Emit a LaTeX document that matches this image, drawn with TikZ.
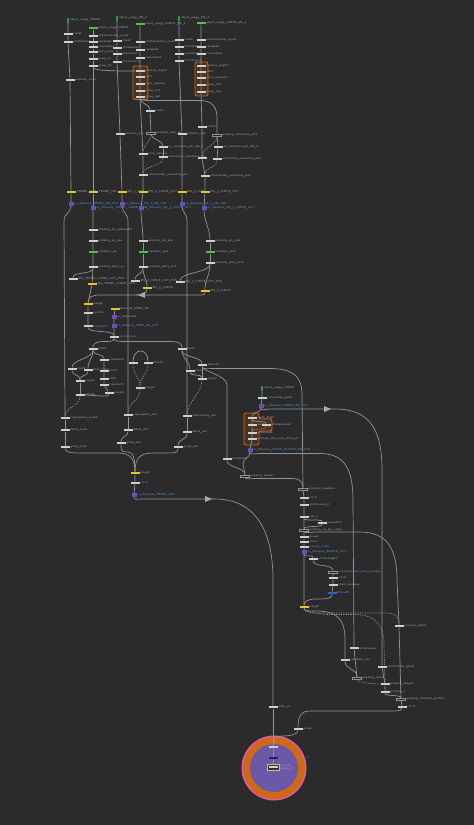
\documentclass[tikz,border=0pt]{standalone}
\usetikzlibrary{shapes.geometric,calc}
\definecolor{bgc}{HTML}{2B2B2B}
\definecolor{wirec}{HTML}{939393}
\definecolor{ndc}{HTML}{CFCFCF}
\definecolor{ylc}{HTML}{E9C52B}
\definecolor{grc}{HTML}{45C845}
\definecolor{pcc}{HTML}{6B4FB8}
\definecolor{blc}{HTML}{5B9BD5}
\definecolor{lbc}{HTML}{A8A8A8}
\definecolor{orc}{HTML}{C8681E}
\definecolor{ofc}{HTML}{4A3320}
\definecolor{pinkc}{HTML}{E157B7}
\definecolor{oringc}{HTML}{D06A12}
\definecolor{ipc}{HTML}{6B58A6}
\definecolor{mxc}{HTML}{3A5FD0}
\pgfdeclarelayer{back}
\pgfdeclarelayer{wires}
\pgfsetlayers{back,wires,main}
\tikzset{
 wire/.style={draw=wirec, line width=0.7pt},
 dwire/.style={wire, dash pattern=on 1.2pt off 1.2pt},
 nd/.style={rectangle, fill=ndc, minimum width=9pt, minimum height=2.6pt, inner sep=0pt},
 yl/.style={nd, fill=ylc},
 gr/.style={nd, fill=grc},
 bk/.style={nd, fill=black!85, draw=wirec, line width=0.3pt},
 mx/.style={nd, fill=mxc},
 pm/.style={nd, fill=pcc, minimum width=5pt, minimum height=4pt},
 gi/.style={rectangle, fill=grc!75!black, minimum width=2.5pt, minimum height=5pt, inner sep=0pt},
 lb/.style={text=lbc, font=\sffamily\fontsize{2.9}{3.2}\selectfont, inner sep=0.8pt},
 lbb/.style={lb, text=blc},
 inb/.style={nd, label distance=3.5pt},
 grpbox/.style={draw=orc, fill=ofc, line width=0.8pt, rounded corners=2pt},
 arr/.style={isosceles triangle, isosceles triangle stretches, minimum width=6pt, minimum height=7pt, inner sep=0pt, fill=wirec!80!white},
}
\newcommand\MkW[5]{\node[#1,label={[lb]0:\detokenize{#5}}] (#2) at (#3,#4) {};}
\newcommand\MkB[5]{\node[#1,label={[lbb]0:\detokenize{#5}}] (#2) at (#3,#4) {};}
\begin{document}
\begin{tikzpicture}[x=1pt,y=-1pt]
\begin{pgfonlayer}{back}
\fill[bgc] (0,0) rectangle (474,825);
\draw[grpbox] (133,66) rectangle (148,99.5);
\draw[grpbox] (195,62) rectangle (208,96);
\draw[grpbox] (244,413) -- (259,413) -- (259,419) -- (272,419) -- (272,431) -- (259,431) -- (259,445) -- (244,445) -- cycle;
\fill[pinkc] (274,768) circle (32.5pt);
\fill[oringc] (274,768) circle (31pt);
\fill[ipc] (274,768) circle (24pt);
\end{pgfonlayer}
\useasboundingbox (0,0) rectangle (474,825);
% ---------- column A
\node[gi,label={[lb]0:\detokenize{object_merge_TRUNK}}] (gA) at (68,20) {};
\MkW{nd}{A1}{68}{34}{trans1}
\MkW{nd}{A2}{68}{42}{attribdelete1}
\MkW{nd}{A3}{70}{80}{primitive_curve}
\MkW{yl}{Y1}{71}{192}{TRUNK_OUT}
\MkB{pm}{P1}{71}{204}{ex_Elements_TRUNK_SIS_OUT}
% ---------- column B
\MkW{gr}{gB}{93}{28}{object_merge_CURVE}
\MkW{nd}{B1}{93}{36}{attribnormalize_curve1}
\MkW{nd}{B2}{93}{42}{resample1}
\MkW{nd}{B3}{93}{47}{convertline1}
\MkW{nd}{B4}{93}{52}{sort_points}
\MkW{nd}{B5}{93}{59}{group_crv}
\MkW{nd}{B6}{93}{66}{group_tip}
\MkW{yl}{Y2}{93}{192}{TRUNK_CRV}
\MkB{pm}{P2}{93}{208}{ex_Elements_TRUNK_CURVE_OUT}
% ---------- column C
\node[gi,label={[lb]0:\detokenize{object_merge_SIS_2}}] (gC) at (117,18) {};
\MkW{nd}{C1}{117}{41}{trans2}
\MkW{nd}{C2}{117}{48}{attribdelete2}
\MkW{nd}{C3}{117}{54}{polyframe1}
\MkB{nd}{C4}{117}{62}{attribnormal1}
\MkW{nd}{C5}{120}{134}{primitive_sis2}
\MkW{yl}{Y3}{122}{192}{SIS_2_OUT}
\MkB{pm}{P3}{122}{204}{ex_Elements_SIS_2_SIS_OUT}
% ---------- column D
\MkW{gr}{gD}{140}{24}{object_merge_CURVE_SIS_2}
\MkW{nd}{D1}{140}{42}{attribnormalize_curve2}
\MkW{nd}{D2}{140}{50}{resample2}
\MkW{nd}{D3}{140}{58}{convertline2}
\MkW{inb}{D4}{140}{71}{measure_length1}
\MkW{inb}{D5}{140}{77}{sort1}
\MkW{inb}{D6}{140}{84}{carve_tipcurve}
\MkW{inb}{D7}{140}{91}{group_crv2}
\MkW{inb}{D8}{140}{97}{group_tip2}
\MkW{nd}{D9}{150}{111}{blast3}
\MkW{bk}{K1}{151}{133}{polystrip_conn_pin}
\MkW{nd}{K2}{163}{147}{ex_connection_pin_SIS_2}
\MkW{nd}{K3}{163}{157}{attribcreate_connection_pin}
\MkW{nd}{D10}{143}{154}{blast_tipcurve}
\MkW{nd}{D11}{143}{175}{attribtransfer_connection_pin}
\MkW{yl}{Y4}{143}{192}{SIS_2_CURVE_OUT}
\MkB{pm}{P4}{141}{208}{ex_Elements_SIS_2_CURVE_OUT}
% ---------- column E
\node[gi,label={[lb]0:\detokenize{object_merge_SIS_3}}] (gE) at (179,18) {};
\MkW{nd}{E1}{179}{40}{trans3}
\MkW{nd}{E2}{179}{47}{attribdelete3}
\MkW{nd}{E3}{179}{54}{polyframe2}
\MkB{nd}{E4}{179}{61}{attribnormal2}
\MkW{nd}{E5}{182}{134}{primitive_sis3}
\MkW{yl}{Y5}{182}{192}{SIS_3_OUT}
\MkB{pm}{P5}{182}{204}{ex_Elements_SIS_3_SIS_OUT}
% ---------- column F
\MkW{gr}{gF}{201}{23}{object_merge_CURVE_SIS_3}
\MkW{nd}{F1}{201}{40}{attribnormalize_curve3}
\MkW{nd}{F2}{201}{47}{resample3}
\MkW{nd}{F3}{201}{54}{convertline3}
\MkW{inb}{F4}{201}{66}{measure_length2}
\MkW{inb}{F5}{201}{72}{sort2}
\MkW{inb}{F6}{201}{78}{carve_tipcurve2}
\MkW{inb}{F7}{201}{85}{group_crv3}
\MkW{inb}{F8}{201}{92}{group_tip3}
\MkW{nd}{F9}{202}{127}{blast4}
\MkW{bk}{J1}{217}{135}{polystrip_connection_pin1}
\MkW{nd}{J2}{218}{147}{ex_connection_pin_SIS_3}
\MkW{nd}{J3}{217}{159}{attribcreate_connection_pin1}
\MkW{nd}{F10}{202}{158}{}
\MkW{nd}{F11}{205}{176}{attribtransfer_connection_pin1}
\MkW{yl}{Y6}{205}{192}{SIS_3_CURVE_OUT}
\MkB{pm}{P6}{204}{208}{ex_Elements_SIS_3_CURVE_OUT}
% ---------- section 2
\MkW{nd}{B7}{93}{230}{polystrip_set_globalwidth}
\MkW{nd}{B8}{93}{241}{polystrip_pin_pos}
\MkW{gr}{B9}{93}{252}{transform_pin}
\MkW{nd}{B10}{93}{267}{polystrip_select_crv}
\MkW{nd}{B11}{73}{279}{SIS_TRUNK_CURVE_OUT_POS}
\MkW{yl}{YB}{92}{284}{SIS_TRUNK_CURVE_OUT}
\MkW{nd}{D12}{143}{241}{polystrip_pin_pos1}
\MkW{gr}{D13}{143}{252}{transform_pin1}
\MkW{nd}{D14}{143}{267}{polystrip_select_crv1}
\MkW{nd}{D15}{135}{281}{SIS_2_CURVE_OUT_POS}
\MkW{yl}{YD}{147}{288}{SIS_2_CURVE}
\MkW{nd}{F12}{210}{241}{polystrip_pin_pos2}
\MkW{gr}{F13}{210}{252}{transform_pin2}
\MkW{nd}{F14}{210}{263}{polystrip_select_crv2}
\MkW{nd}{F15}{180}{282}{SIS_3_CURVE_OUT_POS}
\MkW{yl}{YF}{205}{291}{SIS_3_CURVE}
\MkW{yl}{M5}{88}{304}{merge5}
\MkW{nd}{S1}{88}{313}{switch1}
\MkB{nd}{T1}{88}{326}{transform1}
\MkW{yl}{Y7}{115}{309}{Elements_TRNK_SIS}
\MkW{pm}{P7}{114}{317}{ex_ElementsV}
\MkB{pm}{P8}{114}{326}{ex_Elements_TREE_SIS_OUT}
\MkB{nd}{AC1}{114}{337}{attribcreate1}
% ---------- lower left cluster
\MkW{nd}{SP1}{93}{349}{blast1}
\MkW{nd}{L1}{72}{369}{blast6}
\MkW{nd}{L2}{88}{370}{blast_trunk}
\MkW{nd}{L3}{104}{360}{transform6}
\MkW{nd}{L4}{104}{371}{blast7}
\MkW{nd}{L5}{104}{379}{add3}
\MkW{nd}{L6}{104}{385}{transform5}
\MkW{nd}{L7}{80}{381}{merge1}
\MkW{nd}{L8}{109}{393}{merge4}
\MkW{nd}{L9}{80}{395}{delete3}
\MkW{nd}{M2a}{133}{363}{}
\MkW{nd}{M2b}{148}{363}{blast10}
\MkW{nd}{M2}{140}{388}{merge2}
\MkW{nd}{BR}{182}{349}{blast2}
\MkW{nd}{R1}{202}{365}{dissolve2}
\MkW{nd}{R2}{190}{371}{blast8}
\MkW{nd}{R3}{202}{379}{merge7}
\MkW{nd}{CT1}{65}{418}{copytopoints_trunk2}
\MkW{nd}{DT1}{65}{430}{delete_trunk}
\MkW{nd}{GT1}{65}{447}{group_trunk}
\MkW{nd}{CT2}{128}{415}{copytopoints_sis2}
\MkW{nd}{DT2}{128}{430}{delete_sis2}
\MkW{nd}{GT2}{121}{443}{group_sis2}
\MkW{nd}{CT3}{187}{416}{copytopoints_sis3}
\MkW{nd}{DT3}{187}{432}{delete_sis3}
\MkW{nd}{GT3}{178}{447}{group_sis3}
\MkW{yl}{M3}{135}{473}{merge3}
\MkB{nd}{CO1}{135}{483}{color1}
\MkB{pm}{P9}{134}{495}{ex_Elements_TRUNK_OUT}
% ---------- right cluster
\node[gi,label={[lb]0:\detokenize{object_merge_CURVE}}] (GC) at (262,388) {};
\MkW{nd}{CP}{262}{398}{convertlines_points}
\MkB{pm}{P10}{261}{406}{ex_Elements_CURVE_SIS_OUT}
\MkW{inb}{Q1}{252}{418}{attrib_bright}
\MkW{nd}{Q2}{252}{425}{sort3}
\MkW{nd}{Q3}{266}{425}{attribpromote1}
\MkW{nd}{Q4}{252}{433}{attribnoise1}
\MkW{inb}{Q5}{252}{439}{attribute_fold_curve_data_set}
\MkB{pm}{P11}{250}{450}{ex_Elements_CURVE_PLANTS_SIS_OUT}
\MkW{nd}{BD}{227}{459}{blastpoints}
\MkW{bk}{PC}{245}{476}{polystrip_connect}
% ---------- right column
\MkW{bk}{NS}{303}{489}{polystrip_nonsplines}
\MkB{nd}{CR2}{304}{498}{color2}
\MkW{nd}{AI}{304}{505}{attribcreate_id}
\MkW{nd}{FU}{304}{517}{fuse_s}
\MkW{nd}{EL}{322}{523}{ensurelimit}
\MkW{bk}{CD}{304}{530}{polystrip_cd_pos_values}
\MkW{nd}{G1}{304}{537}{group1}
\MkB{nd}{CR3}{304}{542}{color3}
\MkB{nd}{CA}{304}{547}{convert_attribs}
\MkB{pm}{P12}{304}{552}{ex_Elements_SOURCE_OUT}
\MkW{nd}{AW}{313}{559}{attribwrangle2}
\MkB{bk}{PE}{333}{572}{polystripwindow_from_envelope}
\MkB{nd}{CE}{333}{578}{color4}
\MkW{nd}{XE}{333}{585}{xform_envelope}
\MkB{mx}{MX}{332}{593}{Maxwell1}
\MkW{yl}{M8}{304}{607}{merge8}
% ---------- bottom
\MkW{nd}{PB}{399}{626}{polystrip_builder}
\MkW{nd}{AR}{354}{648}{attribremove}
\MkW{nd}{TR}{345}{660}{transform_rest}
\MkW{nd}{ATP}{382}{667}{attribtransfer_planet}
\MkW{bk}{PCo}{357}{678}{polystrip_combo}
\MkW{nd}{PM}{385}{684}{polystrip_merge3}
\MkW{nd}{PS}{385}{692}{polystrip_s}
\MkW{bk}{PT}{401}{699}{polystrip_transform_product}
\MkB{nd}{C5b}{402}{707}{color5}
\MkW{nd}{SC}{273}{707}{scale_x1}
\MkW{nd}{G3}{298}{729}{group3}
% ---------- output circle
\node[nd] (O1) at (273,747) {};
\node[nd, fill=black!60!ipc, label={[lbb,label distance=20pt]0:\detokenize{Tree_m}}] (O2) at (273,758) {};
\node[rectangle, draw=ylc, line width=0.8pt, fill=black!50!ipc, minimum width=12pt, minimum height=6pt, inner sep=0pt,
      label={[lb,align=left]0:\detokenize{output0}\\\detokenize{Output_0}}] (O3b) at (273,767) {};
\node[nd] (O3) at (273,767) {};
% ---------- arrows
\node[arr, shape border rotate=180] (Ar1) at (143,295) {};
\node[arr] (Ar2) at (207,499) {};
\node[arr] (Ar3) at (326,409) {};
% ================= wires
\begin{pgfonlayer}{wires}
\draw[wire] (gA) -- (A1) -- (A2) -- (A3) -- (Y1) -- (P1);
\draw[wire] (gB) -- (B1) -- (B2) -- (B3) -- (B4) -- (B5) -- (B6) -- (Y2) -- (P2);
\draw[wire] (B6.south) .. controls +(0,4) and +(-6,0) .. (D4.west);
\draw[wire] (gC) -- (C1) -- (C2) -- (C3) -- (C4) -- (C5) -- (Y3) -- (P3);
\draw[wire] (gD) -- (D1) -- (D2) -- (D3) -- (D4) -- (D5) -- (D6) -- (D7) -- (D8) -- (D10) -- (D11) -- (Y4) -- (P4);
\draw[wire] (D8.south) .. controls +(0,5) and +(0,-5) .. (D9.north);
\draw[wire] (D9) -- (K1);
\draw[wire] (K1.south) .. controls +(0,5) and +(0,-5) .. (K2.north);
\draw[wire] (K2) -- (K3);
\draw[dwire] (K1.south) .. controls +(0,8) and +(0,-8) .. (D10.north);
\draw[dwire] (K3.south) .. controls +(0,8) and +(0,-8) .. (D11.north);
\draw[wire] (D8.south) .. controls +(0,2) and +(-6,0) .. (152,100.5) -- (200,100.5) .. controls (213,100.5) and (217,108) .. (217,118) -- (J1.north);
\draw[wire] (gE) -- (E1) -- (E2) -- (E3) -- (E4) -- (E5) -- (Y5) -- (P5);
\draw[wire] (gF) -- (F1) -- (F2) -- (F3) -- (F4) -- (F5) -- (F6) -- (F7) -- (F8) -- (F9) -- (F10) -- (F11) -- (Y6) -- (P6);
\draw[wire] (J1) -- (J2) -- (J3);
\draw[dwire] (J1.south) .. controls +(0,8) and +(0,-8) .. (F10.north);
\draw[dwire] (J3.south) .. controls +(0,8) and +(0,-8) .. (F11.north);
% section 2
\draw[wire] (P2) -- (B7) -- (B8) -- (B9) -- (B10) -- (YB);
\draw[wire] (B10.south) .. controls +(0,6) and +(0,-6) .. (B11.north);
\draw[wire] (P4.south) .. controls +(0,8) and +(0,-8) .. (D12.north);
\draw[wire] (D12) -- (D13) -- (D14);
\draw[wire] (D14.south) .. controls +(0,8) and +(0,-8) .. (YD.north);
\draw[wire] (D14.south) .. controls +(0,6) and +(0,-6) .. (D15.north);
\draw[wire] (P6.south) .. controls +(0,10) and +(0,-10) .. (F12.north);
\draw[wire] (F12) -- (F13) -- (F14);
\draw[wire] (F14.south) .. controls +(0,10) and +(0,-10) .. (YF.north);
\draw[wire] (F14.south) .. controls +(0,8) and +(0,-8) .. (F15.north);
\draw[wire] (YF.south) .. controls +(0,3) and +(6,0) .. (196,295) -- (100,295) .. controls (91,295) and (88,298) .. (M5.north);
\draw[wire] (YD.south) .. controls +(0,4) and +(5,0) .. (136,295);
\draw[wire] (YB) -- (M5) -- (S1) -- (T1);
\draw[wire] (Y7) -- (P7) -- (P8) -- (AC1);
\draw[wire] (T1.south) .. controls +(0,6) and +(0,-6) .. (AC1.north);
% lower left
\draw[wire] (AC1.south) .. controls +(0,3) and +(6,0) .. (104,341.5) .. controls (95,341.5) and (93,344) .. (SP1.north);
\draw[wire] (AC1.south) .. controls +(0,3) and +(-6,0) .. (126,341.5) -- (170,341.5) .. controls (180,341.5) and (182,344) .. (BR.north);
\draw[wire] (SP1.south) .. controls +(0,8) and +(0,-8) .. (L1.north);
\draw[wire] (SP1.south) .. controls +(0,5) and +(0,-5) .. (L3.north);
\draw[wire] (SP1.south) .. controls +(0,8) and +(0,-8) .. (L2.north);
\draw[wire] (L3) -- (L4) -- (L5) -- (L6) -- (L8);
\draw[wire] (L1.south) .. controls +(0,5) and +(0,-5) .. (L7.north);
\draw[wire] (L2.south) .. controls +(0,5) and +(0,-5) .. (L7.north);
\draw[wire] (L7) -- (L9);
\draw[wire] (L8.south) .. controls +(0,3) and +(8,0) .. (L9.east);
\draw[dwire] (L9.south) .. controls +(0,10) and +(0,-10) .. (CT1.north);
\draw[wire] (M2a.north) .. controls +(0,-14) and +(0,-14) .. (M2b.north);
\draw[dwire] (M2a.south) .. controls +(0,10) and +(0,-10) .. (M2.north);
\draw[dwire] (M2b.south) .. controls +(0,10) and +(0,-10) .. (M2.north);
\draw[dwire] (M2.south) .. controls +(0,12) and +(0,-12) .. (CT2.north);
\draw[wire] (BR.south) .. controls +(0,7) and +(0,-7) .. (R1.north);
\draw[wire] (BR.south) .. controls +(0,8) and +(0,-8) .. (R2.north);
\draw[wire] (R1) -- (R3);
\draw[wire] (R2.south) .. controls +(0,4) and +(0,-4) .. (R3.north);
\draw[dwire] (R3.south) .. controls +(0,12) and +(0,-12) .. (CT3.north);
\draw[wire] (R1.south) .. controls +(0,3) and +(-8,0) .. (215,368.5) -- (270,368.5) .. controls (295,368.5) and (302,378) .. (302,395) -- (NS.north);
\draw[wire] (R1.south) .. controls +(0,5) and +(0,-10) .. (227,385) -- (BD.north);
\draw[wire] (P1.south) .. controls +(0,6) and +(0,-6) .. (64,220) -- (CT1.north);
\draw[wire] (P3.south) .. controls +(0,6) and +(0,-6) .. (128,220) -- (CT2.north);
\draw[wire] (P5.south) .. controls +(0,6) and +(0,-6) .. (187,220) -- (CT3.north);
\draw[wire] (CT1) -- (DT1) -- (GT1);
\draw[wire] (CT2) -- (DT2);
\draw[wire] (DT2.south) .. controls +(0,6) and +(0,-6) .. (GT2.north);
\draw[wire] (CT3) -- (DT3);
\draw[wire] (DT3.south) .. controls +(0,7) and +(0,-7) .. (GT3.north);
\draw[wire] (GT1.south) .. controls +(0,4) and +(-8,0) .. (80,453) -- (118,453) .. controls (131,453) and (135,460) .. (M3.north);
\draw[wire] (GT2.south) .. controls +(0,4) and +(-8,0) .. (128,452) .. controls (133,452) and (135,458) .. (M3.north);
\draw[wire] (GT3.south) .. controls +(0,4) and +(8,0) .. (168,453) -- (152,453) .. controls (139,453) and (135,460) .. (M3.north);
\draw[wire] (M3) -- (CO1) -- (P9);
\draw[wire] (P9.south) .. controls +(0,3) and +(-5,0) .. (142,499) -- (215,499) .. controls (255,499) and (273,530) .. (273,580) -- (SC.north);
\draw[wire] (SC) -- (O1);
% right cluster
\draw[wire] (GC) -- (CP) -- (P10);
\draw[wire] (P10.south) .. controls +(0,3) and +(-5,0) .. (270,409) -- (335,409) .. controls (370,409) and (382,430) .. (382,470) -- (ATP.north);
\draw[wire] (P10.south) .. controls +(0,5) and +(0,-5) .. (Q1.north);
\draw[wire] (Q1) -- (Q2) -- (Q4) -- (Q5) -- (P11);
\draw[wire] (Q1.south) .. controls +(0,3) and +(0,-3) .. (Q3.north);
\draw[dwire] (Q3.south) .. controls +(0,4) and +(0,-4) .. (Q4.north);
\draw[wire] (P11.south) .. controls +(0,3) and +(-5,0) .. (260,453.5) -- (320,453.5) .. controls (345,453.5) and (353,470) .. (353,500) -- (AR.north);
\draw[wire] (P11.south) .. controls +(0,6) and +(0,-6) .. (243,464) -- (PC.north);
\draw[wire] (BD.south) .. controls +(0,7) and +(0,-7) .. (PC.north);
\draw[wire] (PC.south) .. controls +(0,2) and +(-5,0) .. (256,478.5) -- (292,478.5) .. controls (300,478.5) and (303,482) .. (NS.north);
\draw[wire] (NS) -- (CR2) -- (AI) -- (FU) -- (CD) -- (G1) -- (CR3) -- (CA) -- (P12) -- (M8);
\draw[wire] (FU.south) .. controls +(0,3) and +(0,-3) .. (EL.north);
\draw[wire] (EL.south) .. controls +(0,3) and +(0,-3) .. (CD.north);
\draw[wire] (P12.south) .. controls +(0,4) and +(0,-4) .. (AW.north);
\draw[wire] (AW.south) .. controls +(0,7) and +(0,-7) .. (PE.north);
\draw[wire] (PE) -- (CE) -- (XE) -- (MX);
\draw[wire] (MX.south) .. controls +(0,4) and +(12,0) .. (316,599) .. controls (307,599) and (304,602) .. (M8.north);
\draw[wire] (CD.south) .. controls +(0,2) and +(-5,0) .. (316,532) -- (360,532) .. controls (388,532) and (397,550) .. (397,580) -- (PB.north);
% bottom
\draw[wire] (M8.south) .. controls +(0,3) and +(-5,0) .. (316,611) .. controls (338,611) and (345,620) .. (345,640) -- (TR.north);
\draw[dwire] (M8.south) .. controls +(0,4) and +(-5,0) .. (318,613) -- (385,613) .. controls (395,613) and (399,616) .. (PB.north);
\draw[dwire] (M8.south) .. controls +(0,4) and +(-5,0) .. (330,614.5) -- (355,614.5) .. controls (376,614.5) and (384,626) .. (384,645) -- (PM.north);
\draw[wire] (TR.south) .. controls +(0,8) and +(0,-8) .. (PCo.north);
\draw[wire] (AR) -- (PCo);
\draw[wire] (ATP) -- (PM) -- (PS);
\draw[dwire] (PCo.south) .. controls +(0,3) and +(-6,0) .. (PM.west);
\draw[wire] (PS.south) .. controls +(0,3) and +(0,-3) .. (PT.north);
\draw[wire] (PB) -- (PT) -- (C5b);
\draw[wire] (C5b.south) .. controls +(0,3) and +(6,0) .. (385,711) -- (310,711) .. controls (301,711) and (298,716) .. (G3.north);
\draw[wire] (G3.south) .. controls +(0,4) and +(8,0) .. (282,736) .. controls (276,736) and (273,740) .. (O1.north);
\draw[wire] (O1) -- (O2) -- (O3b);
\end{pgfonlayer}
\end{tikzpicture}
\end{document}
